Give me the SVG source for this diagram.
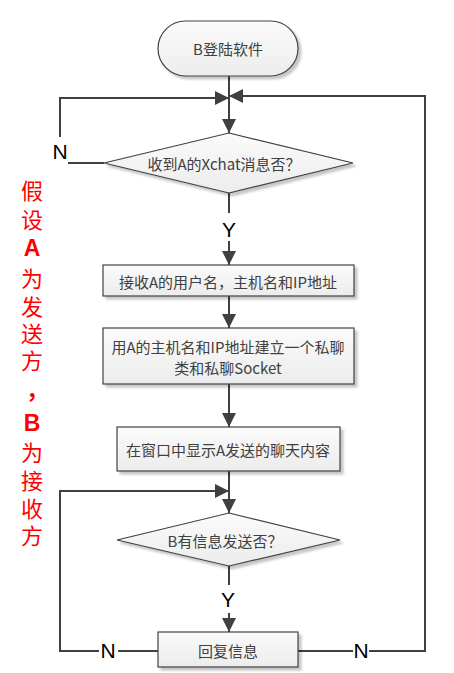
<svg xmlns="http://www.w3.org/2000/svg" width="454" height="673" viewBox="0 0 454 673">
<style>
.shape{fill:url(#g);stroke:#404040;stroke-width:1.2;filter:url(#sh)}
.t{font-family:"Noto Sans CJK SC","Liberation Sans",sans-serif;font-size:15px;fill:#404040;text-anchor:middle;dominant-baseline:central}
.c{fill:none;stroke:#404040;stroke-width:2}
.lbl{font-family:"Liberation Sans",Arial,sans-serif;font-size:21px;fill:#000;text-anchor:middle}
.red{font-family:"Noto Sans CJK SC","Liberation Sans",sans-serif;font-size:22px;fill:#ff0000;text-anchor:middle;dominant-baseline:central}
.b{font-family:"Liberation Sans",Arial,sans-serif;font-weight:bold;font-size:23px}
.cm{font-weight:bold}
</style>
<defs>
<linearGradient id="g" x1="0" y1="0" x2="0" y2="1">
<stop offset="0" stop-color="#fbfbfb"/>
<stop offset="1" stop-color="#ececec"/>
</linearGradient>
<filter id="sh" x="-10%" y="-10%" width="130%" height="140%">
<feDropShadow dx="3" dy="3" stdDeviation="1.2" flood-color="#000" flood-opacity="0.22"/>
</filter>
<marker id="ah" markerUnits="userSpaceOnUse" markerWidth="14" markerHeight="14" viewBox="0 0 14 14" refX="14" refY="7" orient="auto">
<path d="M0,0 L14,7 L0,14 z" fill="#404040"/>
</marker>
</defs>
<rect width="454" height="673" fill="#fff"/>

<g id="connectors">
<path class="c" d="M229,76 V133" marker-end="url(#ah)"/>
<path class="c" d="M104,163 H68"/>
<path class="c" d="M60,137 V98 H229" marker-end="url(#ah)"/>
<path class="c" d="M298,651 H353"/>
<path class="c" d="M369,651 H425 V96 H229" marker-end="url(#ah)"/>
<path class="c" d="M229,193 V213"/>
<path class="c" d="M229,241 V265" marker-end="url(#ah)"/>
<path class="c" d="M229,296 V328" marker-end="url(#ah)"/>
<path class="c" d="M229,384 V427" marker-end="url(#ah)"/>
<path class="c" d="M229,471 V513" marker-end="url(#ah)"/>
<path class="c" d="M158,651 H118"/>
<path class="c" d="M99,651 H60 V491 H229" marker-end="url(#ah)"/>
<path class="c" d="M229,566 V585"/>
<path class="c" d="M229,613 V632" marker-end="url(#ah)"/>
<text class="lbl" x="60" y="159">N</text>
<text class="lbl" x="229" y="237">Y</text>
<text class="lbl" x="228" y="607">Y</text>
<text class="lbl" x="108" y="658">N</text>
<text class="lbl" x="361" y="658">N</text>
</g>

<g id="start">
<rect class="shape" x="158" y="21" width="140" height="55" rx="27.5"/>
<text class="t" x="228" y="48">B登陆软件</text>
</g>
<g id="decision1">
<polygon class="shape" points="229,133 353,163 229,193 104,163"/>
<text class="t" x="224" y="163">收到A的Xchat消息否？</text>
</g>
<g id="box1">
<rect class="shape" x="103" y="265" width="251" height="31"/>
<text class="t" x="228" y="281">接收A的用户名，主机名和IP地址</text>
</g>
<g id="box2">
<rect class="shape" x="103" y="328" width="251" height="56"/>
<text class="t" x="228" y="346">用A的主机名和IP地址建立一个私聊</text>
<text class="t" x="228" y="367">类和私聊Socket</text>
</g>
<g id="box3">
<rect class="shape" x="117" y="427" width="223" height="44"/>
<text class="t" x="228" y="449">在窗口中显示A发送的聊天内容</text>
</g>
<g id="decision2">
<polygon class="shape" points="229,513 340,540 229,566 117,540"/>
<text class="t" x="225" y="540">B有信息发送否？</text>
</g>
<g id="box4">
<rect class="shape" x="158" y="632" width="140" height="35"/>
<text class="t" x="228" y="650">回复信息</text>
</g>

<g id="note">
<text class="red" x="32" y="189">假</text>
<text class="red" x="32" y="218">设</text>
<text class="red b" x="32" y="248">A</text>
<text class="red" x="32" y="277">为</text>
<text class="red" x="32" y="305">发</text>
<text class="red" x="32" y="332">送</text>
<text class="red" x="32" y="359">方</text>
<text class="red cm" x="37" y="388">，</text>
<text class="red b" x="32" y="423">B</text>
<text class="red" x="32" y="451">为</text>
<text class="red" x="32" y="479">接</text>
<text class="red" x="32" y="507">收</text>
<text class="red" x="32" y="534">方</text>
</g>
</svg>
